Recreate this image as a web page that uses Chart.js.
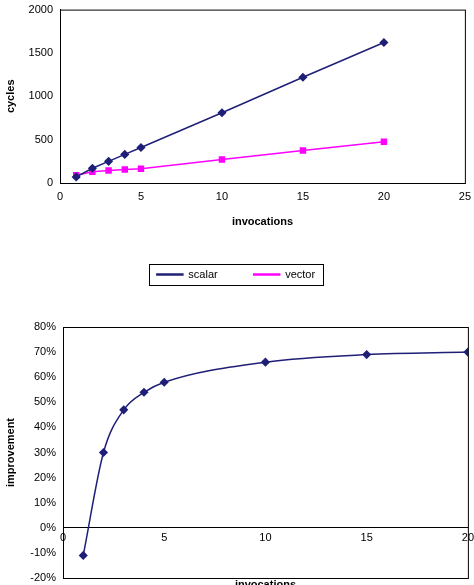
<!DOCTYPE html>
<html>
<head>
<script src="https://cdn.jsdelivr.net/npm/chart.js@4/dist/chart.umd.min.js"></script>
<style>
  body { margin: 0; background: #fff; width: 474px; height: 585px; overflow: hidden; position: relative; }
  #top { position: absolute; left: 0; top: 0; }
  #bottom { position: absolute; left: 0; top: 305px; }
</style>
</head>
<body>
<canvas id="top" width="474" height="290"></canvas>
<canvas id="bottom" width="474" height="285"></canvas>
<script>
// data
const invocations = [1, 2, 3, 4, 5, 10, 15, 20];
const scalarCycles = [70, 170, 250, 330, 410, 810, 1220, 1620];
const vectorCycles = [90, 130, 145, 155, 165, 270, 375, 475];
const improvement = [-11, 30, 47, 54, 58, 66, 69, 70];

const font = { family: "Arial, Liberation Sans, sans-serif", size: 11 };
Chart.defaults.color = "#000";
Chart.defaults.animation = false;

const toXY = (ys) => ys.map((y, i) => ({ x: invocations[i], y }));

//box around plot area + legend border
const framePlugin = {
  id: "frame",
  afterDraw(chart) {
    const { ctx, chartArea: a } = chart;
    ctx.save();
    ctx.strokeStyle = "#000";
    ctx.lineWidth = 1;
    ctx.strokeRect(a.left + 0.5, a.top + 0.5, a.right - a.left, a.bottom - a.top);
    const lg = chart.legend;
    if (lg && lg.options.display && lg.legendHitBoxes.length) {
      const hb = lg.legendHitBoxes;
      const l = Math.min(...hb.map((b) => b.left)) - 8;
      const r = Math.max(...hb.map((b) => b.left + b.width)) + 8;
      const t = hb[0].top - 5;
      ctx.strokeRect(Math.round(l) + 0.5, Math.round(t) + 0.5, Math.round(r - l), hb[0].height + 10);
    }
    if (chart.canvas.id === "bottom") {
      ctx.font = "bold 11px Arial, Liberation Sans, sans-serif";
      ctx.textAlign = "center";
      ctx.fillStyle = "#000";
      ctx.fillText("invocations", (a.left + a.right) / 2, 283);
    }
    ctx.restore();
  },
};

//================ chart cycles
new Chart(document.getElementById("top"), {
  type: "line",
  data: {
    datasets: [
      {
        label: "scalar",
        data: toXY(scalarCycles),
        borderColor: "#1f1f78",
        backgroundColor: "#1f1f78",
        borderWidth: 1.5,
        pointStyle: "rectRot",
        pointRadius: 3.5,
      },
      {
        label: "vector",
        data: toXY(vectorCycles),
        borderColor: "#ff00ff",
        backgroundColor: "#ff00ff",
        borderWidth: 1.5,
        pointStyle: "rect",
        pointRadius: 3.5,
      },
    ],
  },
  options: {
    responsive: false,
    layout: { padding: { top: 2, right: 2, bottom: 0 } },
    scales: {
      x: {
        type: "linear", min: 0, max: 25,
        ticks: { stepSize: 5, font },
        grid: { display: false, tickLength: 4 },
        border: { color: "#000" },
        title: { display: true, text: "invocations", font: { ...font, weight: "bold" } },
        afterFit(s) { s.height = 50; },
      },
      y: {
        min: 0, max: 2000,
        ticks: { stepSize: 500, font, callback: (v) => String(v) },
        grid: { display: false, tickLength: 4 },
        border: { color: "#000" },
        title: { display: true, text: "cycles", font: { ...font, weight: "bold" } },
        afterFit(s) { s.width = 60; },
      },
    },
    plugins: {
      legend: {
        position: "bottom",
        labels: { font, boxWidth: 26, boxHeight: 1, padding: 36, color: "#000" },
      },
      tooltip: { enabled: false },
    },
  },
  plugins: [framePlugin],
});

//================ chart improvement
new Chart(document.getElementById("bottom"), {
  type: "line",
  data: {
    datasets: [
      {
        label: "improvement",
        data: toXY(improvement),
        borderColor: "#1f1f78",
        backgroundColor: "#1f1f78",
        borderWidth: 1.5,
        cubicInterpolationMode: "monotone",
        pointStyle: "rectRot",
        pointRadius: 3.5,
      },
    ],
  },
  options: {
    responsive: false,
    layout: { padding: { top: 22, right: 4, bottom: 12 } },
    scales: {
      x: {
        type: "linear", min: 0, max: 20,
        position: { y: 0 },
        ticks: { stepSize: 5, font, padding: 0 },
        grid: { display: false, tickLength: 4 },
        border: { color: "#000" },
      },
      y: {
        min: -20, max: 80,
        ticks: { stepSize: 10, font, callback: (v) => v + "%" },
        grid: { display: false, tickLength: 4 },
        border: { color: "#000" },
        title: { display: true, text: "improvement", font: { ...font, weight: "bold" } },
        afterFit(s) { s.width = 63; },
      },
    },
    plugins: { legend: { display: false }, tooltip: { enabled: false } },
  },
  plugins: [framePlugin],
});
</script>
</body>
</html>
